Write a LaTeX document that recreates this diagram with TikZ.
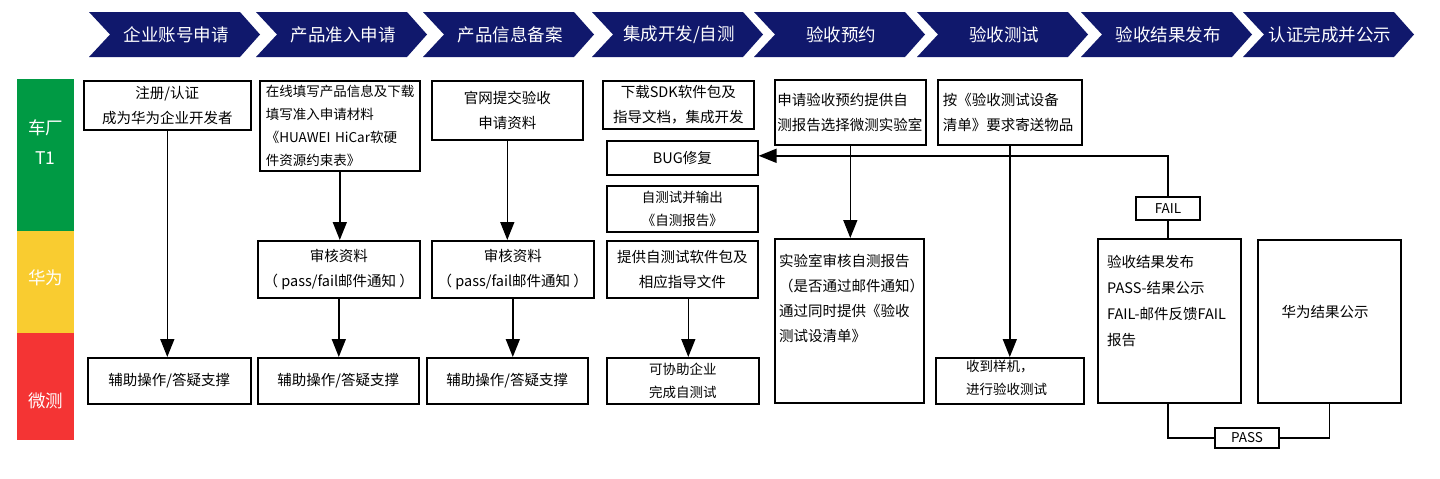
\documentclass[tikz,border=0pt]{standalone}
\usepackage{fontspec}
\newfontfamily\cjk{Noto Sans CJK SC}
\usetikzlibrary{arrows.meta}
\definecolor{navy}{RGB}{16,24,108}
\definecolor{lgreen}{RGB}{0,154,68}
\definecolor{lyellow}{RGB}{249,204,48}
\definecolor{lred}{RGB}{244,52,52}
\begin{document}
\begin{tikzpicture}[x=1pt,y=-1pt,
  box/.style={draw=black, line width=1.6pt, anchor=north west, inner sep=0pt, align=center},
  fs/.style={font=\cjk\fontsize{14.5}{25}\selectfont},
  fm/.style={font=\cjk\fontsize{13.5}{23}\selectfont},
  hdr/.style={text=white, font=\cjk\fontsize{17.5}{20}\selectfont},
  lanetxt/.style={text=white, align=center, font=\cjk\fontsize{17.5}{30}\selectfont},
  txt/.style={anchor=north west, inner sep=0pt, align=left},
  conn/.style={draw=black, line width=1.5pt},
  arr/.style={conn, -{Triangle[length=18pt,width=14pt]}},
  tag/.style={draw=black, line width=1.5pt, inner sep=0pt, font=\cjk\fontsize{13.5}{15}\selectfont}]
\useasboundingbox (0,0) rectangle (1440,479);
\fill[white] (0,0) rectangle (1440,479);

% header chevrons
\foreach \L/\t [count=\i] in {89/{企业账号申请},256/{产品准入申请},423/{产品信息备案},592/{集成开发/自测},754/{验收预约},917/{验收测试},1081/{验收结果发布},1243/{认证完成并公示}}{
  \fill[navy] (\L,12) -- (\L+151,12) -- (\L+171,34.5) -- (\L+151,57) -- (\L,57) -- (\L+21,34.5) -- cycle;
  \node[hdr] (hd\i) at (\L+87,35) {\t};
}

% lanes
\fill[lgreen] (17,79) rectangle (74,231);
\fill[lyellow] (17,231) rectangle (74,333);
\fill[lred] (17,333) rectangle (74,440);
\node[lanetxt] (ln1) at (45.5,142) {车厂\\T1};
\node[lanetxt] (ln2) at (45.5,278) {华为};
\node[lanetxt] (ln3) at (45.5,401) {微测};

% column 1
\node[box, fs, minimum width=167pt, minimum height=49pt] (a1) at (83,80) {注册/认证\\成为华为企业开发者};
\node[box, fs, minimum width=163pt, minimum height=46pt] (a3) at (87,357) {辅助操作/答疑支撑};

% column 2
\node[box, fm, minimum width=160pt, minimum height=90pt, align=left, text width=148pt] (b1) at (259,80) {在线填写产品信息及下载\\填写准入申请材料\\《HUAWEI HiCar软硬\\件资源约束表》};
\node[box, fs, minimum width=162pt, minimum height=57pt] (b2) at (257,240) {审核资料\\（ pass/fail邮件通知 ）};
\node[box, fs, minimum width=161pt, minimum height=46pt] (b3) at (257,357) {辅助操作/答疑支撑};

% column 3
\node[box, fs, minimum width=151pt, minimum height=59pt] (c1) at (431,80) {官网提交验收\\申请资料};
\node[box, fs, minimum width=162pt, minimum height=57pt] (c2) at (431,240) {审核资料\\（ pass/fail邮件通知 ）};
\node[box, fs, minimum width=161pt, minimum height=46pt] (c3) at (426,357) {辅助操作/答疑支撑};

% column 4
\node[box, fs, minimum width=151pt, minimum height=48pt] (d1) at (602,80) {下载SDK软件包及\\指导文档，集成开发};
\node[box, fs, minimum width=151pt, minimum height=34pt] (d2) at (606,140) {BUG修复};
\node[box, fm, minimum width=151pt, minimum height=46pt] (d3) at (606,185) {自测试并输出\\《自测报告》};
\node[box, fs, minimum width=151pt, minimum height=57pt] (d4) at (606,240) {提供自测试软件包及\\相应指导文件};
\node[box, fm, minimum width=152pt, minimum height=46pt] (d5) at (606,357) {可协助企业\\完成自测试};

% column 5
\node[box, fs, minimum width=151pt, minimum height=65pt, align=left, text width=146pt] (e1) at (774,79) {申请验收预约提供自\\测报告选择微测实验室};
\node[box, minimum width=149pt, minimum height=164pt] (e2) at (774,238) {};
\node[txt, fs] (e2t) at (779,254) {实验室审核自测报告\\（是否通过邮件通知）\\通过同时提供《验收\\测试设清单》};

% column 6
\node[box, fs, minimum width=144pt, minimum height=65pt, align=left, text width=134pt] (f1) at (937,79) {按《验收测试设备\\清单》要求寄送物品};
\node[box, minimum width=148pt, minimum height=46pt] (f2) at (935,357) {};
\node[txt, fm] (f2t) at (966,360) {收到样机，\\进行验收测试};

% column 7 / 8
\node[box, minimum width=143pt, minimum height=164pt] (g1) at (1097,238) {};
\node[txt, font=\cjk\fontsize{14.5}{26}\selectfont] (g1t) at (1107,255) {验收结果发布\\PASS-结果公示\\FAIL-邮件反馈FAIL\\报告};
\node[box, minimum width=143pt, minimum height=163pt] (h1) at (1257,239) {};
\node[fs] (h1t) at (1325,312) {华为结果公示};

\node[tag, minimum width=64pt, minimum height=23pt] (fail) at (1168,208.5) {FAIL};
\node[tag, minimum width=64pt, minimum height=20pt] (pass) at (1247,438) {PASS};

% connectors
\draw[arr] (a1.south) -- (a1.south |- a3.north);
\draw[arr] (b1.south) -- (b1.south |- b2.north);
\draw[arr] (b2.south) -- (b2.south |- b3.north);
\draw[arr] (c1.south) -- (c1.south |- c2.north);
\draw[arr] (c2.south) -- (c2.south |- c3.north);
\draw[arr] ([xshift=6pt]d4.south) -- ([xshift=6pt]d4.south |- d5.north);
\draw[arr] (e1.south) -- (e1.south |- e2.north);
\draw[arr] (f1.south) -- (f1.south |- f2.north);
\draw[conn] (g1.north -| fail.south) -- (fail.south);
\draw[arr] (fail.north) |- ([yshift=2pt]d2.east);
\draw[conn] (g1.south -| fail.south) |- (pass.west);
\draw[conn] (pass.east) -| (h1.south);
\end{tikzpicture}
\end{document}
